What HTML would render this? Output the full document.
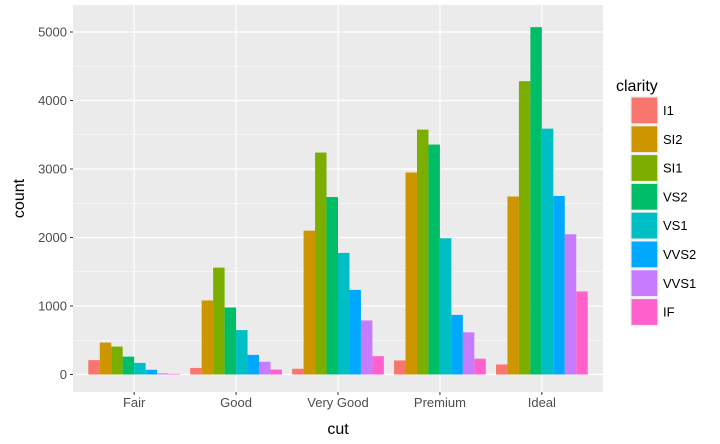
<!DOCTYPE html>
<html><head><meta charset="utf-8"><style>body{margin:0;background:#fff}svg{display:block;font-family:"Liberation Sans",sans-serif}</style></head>
<body>
<svg id="chart" width="720" height="444"></svg>
<script>
const cuts=["Fair","Good","Very Good","Premium","Ideal"];
const clarities=["I1","SI2","SI1","VS2","VS1","VVS2","VVS1","IF"];
const colors=["#F8766D","#CD9600","#7CAE00","#00BE67","#00BFC4","#00A9FF","#C77CFF","#FF61CC"];
const countsI1=[210,96,84,205,146];
const countsSI2=[466,1081,2100,2949,2598];
const countsSI1=[408,1560,3240,3575,4282];
const countsVS2=[261,978,2591,3357,5071];
const countsVS1=[170,648,1775,1989,3589];
const countsVVS2=[69,286,1235,870,2606];
const countsVVS1=[17,186,789,616,2047];
const countsIF=[9,71,268,230,1212];
const series=[countsI1,countsSI2,countsSI1,countsVS2,countsVS1,countsVVS2,countsVVS1,countsIF];
const yTicks=[0,1000,2000,3000,4000,5000];
const NS="http://www.w3.org/2000/svg";
const svg=document.getElementById('chart');
function mk(t,a,p){const e=document.createElementNS(NS,t);for(const k in a)e.setAttribute(k,a[k]);(p||svg).appendChild(e);return e;}
const L=73,R=603,T=5,B=392;
const y=v=>374.5-v*(374.5-32)/5000;
const step=(R-L)/5.2;
const x=i=>L+step*(i+0.6);
const bw=step*0.9/8;
const panel=mk('rect',{x:L,y:T,width:R-L,height:B-T,fill:'#EBEBEB'});

for(let i=0;i<yTicks.length-1;i++){mk('line',{x1:L,x2:R,y1:y((yTicks[i]+yTicks[i+1])/2),y2:y((yTicks[i]+yTicks[i+1])/2),stroke:'#fff','stroke-width':0.6});}
yTicks.forEach(t=>{
 mk('line',{x1:L,x2:R,y1:y(t),y2:y(t),stroke:'#fff','stroke-width':1.2});
 mk('line',{x1:L-3,x2:L,y1:y(t),y2:y(t),stroke:'#333'});
 const tx=mk('text',{x:L-6,y:y(t)+4.5,'text-anchor':'end','font-size':13,fill:'#4D4D4D'});tx.textContent=t;
 
});
cuts.forEach((c,i)=>{
 mk('line',{x1:x(i),x2:x(i),y1:T,y2:B,stroke:'#fff','stroke-width':1.2});
 mk('line',{x1:x(i),x2:x(i),y1:B,y2:B+3,stroke:'#333'});
 const tx=mk('text',{x:x(i),y:B+15,'text-anchor':'middle','font-size':13,fill:'#4D4D4D'});tx.textContent=c;
 
});
series.forEach((s,j)=>{s.forEach((v,i)=>{
 const bx=x(i)-step*0.45+j*bw;
 const r=mk('rect',{x:bx,y:y(v),width:bw,height:y(0)-y(v),fill:colors[j]});
 
 
});});
let t=mk('text',{x:(L+R)/2,y:434,'text-anchor':'middle','font-size':16,fill:'#000'});t.textContent='cut';

t=mk('text',{x:0,y:0,'text-anchor':'middle','font-size':16,fill:'#000',transform:'translate(24,'+((T+B)/2)+') rotate(-90)'});t.textContent='count';

t=mk('text',{x:616,y:91,'font-size':16,fill:'#000'});t.textContent='clarity';

clarities.forEach((c,j)=>{
 const ky=96+j*28.8;
 const g=mk('g',{});
 mk('rect',{x:630,y:ky,width:28.8,height:28.8,fill:'#F2F2F2'},g);
 mk('rect',{x:631.5,y:ky+1.5,width:25.8,height:25.8,fill:colors[j]},g);
 const lt=mk('text',{x:663,y:ky+19,'font-size':13,fill:'#000'},g);lt.textContent=c;
});
</script>
</body></html>
